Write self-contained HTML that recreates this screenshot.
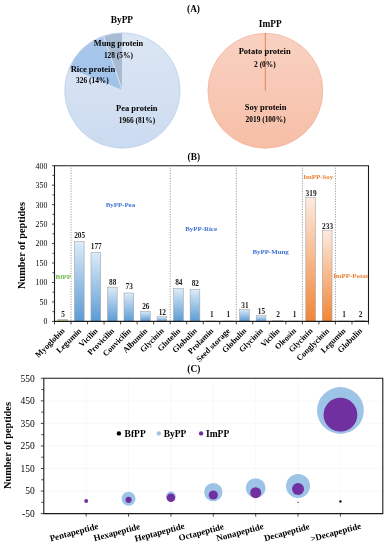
<!DOCTYPE html>
<html><head><meta charset="utf-8"><style>
html,body{margin:0;padding:0;background:#fff;width:391px;height:550px;overflow:hidden}
svg{display:block;will-change:transform}
text{font-family:"Liberation Serif", serif}
</style></head><body>
<svg width="391" height="550" viewBox="0 0 391 550">
<rect width="391" height="550" fill="#fff"/>
<text x="193.50" y="12.20" font-size="9.3" font-weight="bold" text-anchor="middle" fill="#000" >(A)</text>
<defs>
<linearGradient id="pp" x1="0" y1="0" x2="0" y2="1"><stop offset="0" stop-color="#dde7f4"/><stop offset="1" stop-color="#cbdbf0"/></linearGradient>
<linearGradient id="pr" x1="0" y1="0" x2="0" y2="1"><stop offset="0" stop-color="#aac8ec"/><stop offset="1" stop-color="#a0c1e8"/></linearGradient>
<linearGradient id="ps" x1="0" y1="0" x2="0" y2="1"><stop offset="0" stop-color="#f9d2c3"/><stop offset="1" stop-color="#f6bea6"/></linearGradient>
</defs>
<path d="M122.40,90.50 L122.40,32.70 A57.80,57.80 0 1 1 69.00,68.38 Z" fill="url(#pp)" stroke="#dde7f3" stroke-width="0.7"/>
<path d="M122.40,90.50 L69.00,68.38 A57.80,57.80 0 0 1 103.58,35.85 Z" fill="url(#pr)" stroke="#dde7f3" stroke-width="0.7"/>
<path d="M122.40,90.50 L103.58,35.85 A57.80,57.80 0 0 1 122.40,32.70 Z" fill="#a9bbd3" stroke="#dde7f3" stroke-width="0.7"/>
<circle cx="122.4" cy="90.5" r="57.5" fill="none" stroke="#b9cce6" stroke-width="0.6"/>
<text x="121.90" y="22.60" font-size="9.4" font-weight="bold" text-anchor="middle" fill="#000" >ByPP</text>
<text x="118.50" y="46.00" font-size="8.4" font-weight="bold" text-anchor="middle" fill="#000" >Mung protein</text>
<text x="118.40" y="57.70" font-size="7.4" font-weight="bold" text-anchor="middle" fill="#000" >128 (5%)</text>
<text x="92.90" y="71.80" font-size="8.5" font-weight="bold" text-anchor="middle" fill="#000" >Rice protein</text>
<text x="92.40" y="83.30" font-size="7.4" font-weight="bold" text-anchor="middle" fill="#000" >326 (14%)</text>
<text x="136.80" y="111.10" font-size="8.5" font-weight="bold" text-anchor="middle" fill="#000" >Pea protein</text>
<text x="137.00" y="122.90" font-size="7.4" font-weight="bold" text-anchor="middle" fill="#000" >1966 (81%)</text>
<circle cx="265.4" cy="90.8" r="57.7" fill="url(#ps)"/>
<circle cx="265.4" cy="90.8" r="57.400000000000006" fill="none" stroke="#f2b49a" stroke-width="0.6"/>
<line x1="265.29999999999995" y1="90.8" x2="265.29999999999995" y2="33.099999999999994" stroke="#e07f45" stroke-width="0.9"/>
<text x="270.20" y="26.90" font-size="9.4" font-weight="bold" text-anchor="middle" fill="#000" >ImPP</text>
<text x="264.70" y="54.20" font-size="8.5" font-weight="bold" text-anchor="middle" fill="#000" >Potato protein</text>
<text x="264.90" y="66.50" font-size="7.4" font-weight="bold" text-anchor="middle" fill="#000" >2 (0%)</text>
<text x="265.60" y="110.30" font-size="8.5" font-weight="bold" text-anchor="middle" fill="#000" >Soy protein</text>
<text x="265.60" y="122.00" font-size="7.4" font-weight="bold" text-anchor="middle" fill="#000" >2019 (100%)</text>
<text x="193.80" y="160.00" font-size="9.3" font-weight="bold" text-anchor="middle" fill="#000" >(B)</text>
<defs>
<linearGradient id="gb" x1="0" y1="0" x2="0" y2="1"><stop offset="0" stop-color="#dcebf8"/><stop offset="1" stop-color="#5b9bd5"/></linearGradient>
<linearGradient id="go" x1="0" y1="0" x2="0" y2="1"><stop offset="0" stop-color="#fdeadf"/><stop offset="1" stop-color="#f08536"/></linearGradient>
<linearGradient id="gg" x1="0" y1="0" x2="0" y2="1"><stop offset="0" stop-color="#d5e8c8"/><stop offset="1" stop-color="#8fbf6a"/></linearGradient>
</defs>
<line x1="71.03" y1="167.70" x2="71.03" y2="321.40" stroke="#707070" stroke-width="0.75" stroke-dasharray="1.1,1.47"/>
<line x1="170.18" y1="167.70" x2="170.18" y2="321.40" stroke="#707070" stroke-width="0.75" stroke-dasharray="1.1,1.47"/>
<line x1="236.29" y1="167.70" x2="236.29" y2="321.40" stroke="#707070" stroke-width="0.75" stroke-dasharray="1.1,1.47"/>
<line x1="302.39" y1="167.70" x2="302.39" y2="321.40" stroke="#707070" stroke-width="0.75" stroke-dasharray="1.1,1.47"/>
<line x1="335.45" y1="167.70" x2="335.45" y2="321.40" stroke="#707070" stroke-width="0.75" stroke-dasharray="1.1,1.47"/>
<rect x="57.91" y="319.45" width="9.7" height="1.95" fill="url(#gg)" stroke="#a0a0a0" stroke-width="0.55"/>
<text x="63.16" y="316.85" font-size="7.3" font-weight="bold" text-anchor="middle" fill="#1a1a1a" >5</text>
<text x="0" y="0" font-size="8.2" font-weight="bold" text-anchor="end" transform="translate(65.26,331.40) rotate(-45)">Myoglobin</text>
<rect x="74.44" y="241.60" width="9.7" height="79.80" fill="url(#gb)" stroke="#a0a0a0" stroke-width="0.55"/>
<text x="79.69" y="238.00" font-size="7.3" font-weight="bold" text-anchor="middle" fill="#1a1a1a" >205</text>
<text x="0" y="0" font-size="8.2" font-weight="bold" text-anchor="end" transform="translate(81.79,331.40) rotate(-45)">Legumin</text>
<rect x="90.97" y="252.50" width="9.7" height="68.90" fill="url(#gb)" stroke="#a0a0a0" stroke-width="0.55"/>
<text x="96.22" y="248.90" font-size="7.3" font-weight="bold" text-anchor="middle" fill="#1a1a1a" >177</text>
<text x="0" y="0" font-size="8.2" font-weight="bold" text-anchor="end" transform="translate(98.32,331.40) rotate(-45)">Vicilin</text>
<rect x="107.49" y="287.15" width="9.7" height="34.25" fill="url(#gb)" stroke="#a0a0a0" stroke-width="0.55"/>
<text x="112.74" y="284.85" font-size="7.3" font-weight="bold" text-anchor="middle" fill="#1a1a1a" >88</text>
<text x="0" y="0" font-size="8.2" font-weight="bold" text-anchor="end" transform="translate(114.84,331.40) rotate(-45)">Provicilin</text>
<rect x="124.02" y="292.98" width="9.7" height="28.42" fill="url(#gb)" stroke="#a0a0a0" stroke-width="0.55"/>
<text x="129.27" y="289.38" font-size="7.3" font-weight="bold" text-anchor="middle" fill="#1a1a1a" >73</text>
<text x="0" y="0" font-size="8.2" font-weight="bold" text-anchor="end" transform="translate(131.37,331.40) rotate(-45)">Convicilin</text>
<rect x="140.54" y="311.28" width="9.7" height="10.12" fill="url(#gb)" stroke="#a0a0a0" stroke-width="0.55"/>
<text x="145.79" y="308.68" font-size="7.3" font-weight="bold" text-anchor="middle" fill="#1a1a1a" >26</text>
<text x="0" y="0" font-size="8.2" font-weight="bold" text-anchor="end" transform="translate(147.89,331.40) rotate(-45)">Albumin</text>
<rect x="157.07" y="316.73" width="9.7" height="4.67" fill="url(#gb)" stroke="#a0a0a0" stroke-width="0.55"/>
<text x="162.32" y="315.13" font-size="7.3" font-weight="bold" text-anchor="middle" fill="#1a1a1a" >12</text>
<text x="0" y="0" font-size="8.2" font-weight="bold" text-anchor="end" transform="translate(164.42,331.40) rotate(-45)">Glycinin</text>
<rect x="173.60" y="288.70" width="9.7" height="32.70" fill="url(#gb)" stroke="#a0a0a0" stroke-width="0.55"/>
<text x="178.85" y="285.10" font-size="7.3" font-weight="bold" text-anchor="middle" fill="#1a1a1a" >84</text>
<text x="0" y="0" font-size="8.2" font-weight="bold" text-anchor="end" transform="translate(180.95,331.40) rotate(-45)">Glutelin</text>
<rect x="190.12" y="289.48" width="9.7" height="31.92" fill="url(#gb)" stroke="#a0a0a0" stroke-width="0.55"/>
<text x="195.37" y="285.88" font-size="7.3" font-weight="bold" text-anchor="middle" fill="#1a1a1a" >82</text>
<text x="0" y="0" font-size="8.2" font-weight="bold" text-anchor="end" transform="translate(197.47,331.40) rotate(-45)">Globulin</text>
<rect x="206.65" y="321.01" width="9.7" height="0.39" fill="url(#gb)" stroke="#a0a0a0" stroke-width="0.55"/>
<text x="211.90" y="317.41" font-size="7.3" font-weight="bold" text-anchor="middle" fill="#1a1a1a" >1</text>
<text x="0" y="0" font-size="8.2" font-weight="bold" text-anchor="end" transform="translate(214.00,331.40) rotate(-45)">Prolamin</text>
<rect x="223.18" y="321.01" width="9.7" height="0.39" fill="url(#gb)" stroke="#a0a0a0" stroke-width="0.55"/>
<text x="228.43" y="317.41" font-size="7.3" font-weight="bold" text-anchor="middle" fill="#1a1a1a" >1</text>
<text x="0" y="0" font-size="8.2" font-weight="bold" text-anchor="end" transform="translate(230.53,331.40) rotate(-45)">Seed storage</text>
<rect x="239.70" y="309.33" width="9.7" height="12.07" fill="url(#gb)" stroke="#a0a0a0" stroke-width="0.55"/>
<text x="244.95" y="307.73" font-size="7.3" font-weight="bold" text-anchor="middle" fill="#1a1a1a" >31</text>
<text x="0" y="0" font-size="8.2" font-weight="bold" text-anchor="end" transform="translate(247.05,331.40) rotate(-45)">Globulin</text>
<rect x="256.23" y="315.56" width="9.7" height="5.84" fill="url(#gb)" stroke="#a0a0a0" stroke-width="0.55"/>
<text x="261.48" y="314.46" font-size="7.3" font-weight="bold" text-anchor="middle" fill="#1a1a1a" >15</text>
<text x="0" y="0" font-size="8.2" font-weight="bold" text-anchor="end" transform="translate(263.58,331.40) rotate(-45)">Glycinin</text>
<rect x="272.76" y="320.62" width="9.7" height="0.78" fill="url(#gb)" stroke="#a0a0a0" stroke-width="0.55"/>
<text x="278.01" y="317.02" font-size="7.3" font-weight="bold" text-anchor="middle" fill="#1a1a1a" >2</text>
<text x="0" y="0" font-size="8.2" font-weight="bold" text-anchor="end" transform="translate(280.11,331.40) rotate(-45)">Vicilin</text>
<rect x="289.28" y="321.01" width="9.7" height="0.39" fill="url(#gb)" stroke="#a0a0a0" stroke-width="0.55"/>
<text x="294.53" y="317.41" font-size="7.3" font-weight="bold" text-anchor="middle" fill="#1a1a1a" >1</text>
<text x="0" y="0" font-size="8.2" font-weight="bold" text-anchor="end" transform="translate(296.63,331.40) rotate(-45)">Oleosin</text>
<rect x="305.81" y="197.23" width="9.7" height="124.17" fill="url(#go)" stroke="#a0a0a0" stroke-width="0.55"/>
<text x="311.06" y="196.33" font-size="7.3" font-weight="bold" text-anchor="middle" fill="#1a1a1a" >319</text>
<text x="0" y="0" font-size="8.2" font-weight="bold" text-anchor="end" transform="translate(313.16,331.40) rotate(-45)">Glycinin</text>
<rect x="322.33" y="230.70" width="9.7" height="90.70" fill="url(#go)" stroke="#a0a0a0" stroke-width="0.55"/>
<text x="327.58" y="228.60" font-size="7.3" font-weight="bold" text-anchor="middle" fill="#1a1a1a" >233</text>
<text x="0" y="0" font-size="8.2" font-weight="bold" text-anchor="end" transform="translate(329.68,331.40) rotate(-45)">Conglycinin</text>
<rect x="338.86" y="321.01" width="9.7" height="0.39" fill="url(#go)" stroke="#a0a0a0" stroke-width="0.55"/>
<text x="344.11" y="317.41" font-size="7.3" font-weight="bold" text-anchor="middle" fill="#1a1a1a" >1</text>
<text x="0" y="0" font-size="8.2" font-weight="bold" text-anchor="end" transform="translate(346.21,331.40) rotate(-45)">Legumin</text>
<rect x="355.39" y="320.62" width="9.7" height="0.78" fill="url(#go)" stroke="#a0a0a0" stroke-width="0.55"/>
<text x="360.64" y="317.02" font-size="7.3" font-weight="bold" text-anchor="middle" fill="#1a1a1a" >2</text>
<text x="0" y="0" font-size="8.2" font-weight="bold" text-anchor="end" transform="translate(362.74,331.40) rotate(-45)">Globulin</text>
<path d="M54.5,165.7 L368.5,165.7 L368.5,321.4 L54.5,321.4 Z" fill="none" stroke="#1a1a1a" stroke-width="1.1"/>
<line x1="52.00" y1="321.40" x2="54.50" y2="321.40" stroke="#1a1a1a" stroke-width="0.8"/>
<text x="47.30" y="324.30" font-size="7.8" font-weight="normal" text-anchor="end" fill="#000" >0</text>
<line x1="52.50" y1="311.67" x2="54.50" y2="311.67" stroke="#1a1a1a" stroke-width="0.8"/>
<line x1="52.00" y1="301.94" x2="54.50" y2="301.94" stroke="#1a1a1a" stroke-width="0.8"/>
<text x="47.30" y="304.84" font-size="7.8" font-weight="normal" text-anchor="end" fill="#000" >50</text>
<line x1="52.50" y1="292.21" x2="54.50" y2="292.21" stroke="#1a1a1a" stroke-width="0.8"/>
<line x1="52.00" y1="282.47" x2="54.50" y2="282.47" stroke="#1a1a1a" stroke-width="0.8"/>
<text x="47.30" y="285.37" font-size="7.8" font-weight="normal" text-anchor="end" fill="#000" >100</text>
<line x1="52.50" y1="272.74" x2="54.50" y2="272.74" stroke="#1a1a1a" stroke-width="0.8"/>
<line x1="52.00" y1="263.01" x2="54.50" y2="263.01" stroke="#1a1a1a" stroke-width="0.8"/>
<text x="47.30" y="265.91" font-size="7.8" font-weight="normal" text-anchor="end" fill="#000" >150</text>
<line x1="52.50" y1="253.28" x2="54.50" y2="253.28" stroke="#1a1a1a" stroke-width="0.8"/>
<line x1="52.00" y1="243.55" x2="54.50" y2="243.55" stroke="#1a1a1a" stroke-width="0.8"/>
<text x="47.30" y="246.45" font-size="7.8" font-weight="normal" text-anchor="end" fill="#000" >200</text>
<line x1="52.50" y1="233.82" x2="54.50" y2="233.82" stroke="#1a1a1a" stroke-width="0.8"/>
<line x1="52.00" y1="224.09" x2="54.50" y2="224.09" stroke="#1a1a1a" stroke-width="0.8"/>
<text x="47.30" y="226.99" font-size="7.8" font-weight="normal" text-anchor="end" fill="#000" >250</text>
<line x1="52.50" y1="214.36" x2="54.50" y2="214.36" stroke="#1a1a1a" stroke-width="0.8"/>
<line x1="52.00" y1="204.62" x2="54.50" y2="204.62" stroke="#1a1a1a" stroke-width="0.8"/>
<text x="47.30" y="207.53" font-size="7.8" font-weight="normal" text-anchor="end" fill="#000" >300</text>
<line x1="52.50" y1="194.89" x2="54.50" y2="194.89" stroke="#1a1a1a" stroke-width="0.8"/>
<line x1="52.00" y1="185.16" x2="54.50" y2="185.16" stroke="#1a1a1a" stroke-width="0.8"/>
<text x="47.30" y="188.06" font-size="7.8" font-weight="normal" text-anchor="end" fill="#000" >350</text>
<line x1="52.50" y1="175.43" x2="54.50" y2="175.43" stroke="#1a1a1a" stroke-width="0.8"/>
<line x1="52.00" y1="165.70" x2="54.50" y2="165.70" stroke="#1a1a1a" stroke-width="0.8"/>
<text x="47.30" y="168.60" font-size="7.8" font-weight="normal" text-anchor="end" fill="#000" >400</text>
<line x1="54.50" y1="321.40" x2="54.50" y2="324.40" stroke="#1a1a1a" stroke-width="0.8"/>
<line x1="71.03" y1="321.40" x2="71.03" y2="324.40" stroke="#1a1a1a" stroke-width="0.8"/>
<line x1="87.55" y1="321.40" x2="87.55" y2="324.40" stroke="#1a1a1a" stroke-width="0.8"/>
<line x1="104.08" y1="321.40" x2="104.08" y2="324.40" stroke="#1a1a1a" stroke-width="0.8"/>
<line x1="120.61" y1="321.40" x2="120.61" y2="324.40" stroke="#1a1a1a" stroke-width="0.8"/>
<line x1="137.13" y1="321.40" x2="137.13" y2="324.40" stroke="#1a1a1a" stroke-width="0.8"/>
<line x1="153.66" y1="321.40" x2="153.66" y2="324.40" stroke="#1a1a1a" stroke-width="0.8"/>
<line x1="170.18" y1="321.40" x2="170.18" y2="324.40" stroke="#1a1a1a" stroke-width="0.8"/>
<line x1="186.71" y1="321.40" x2="186.71" y2="324.40" stroke="#1a1a1a" stroke-width="0.8"/>
<line x1="203.24" y1="321.40" x2="203.24" y2="324.40" stroke="#1a1a1a" stroke-width="0.8"/>
<line x1="219.76" y1="321.40" x2="219.76" y2="324.40" stroke="#1a1a1a" stroke-width="0.8"/>
<line x1="236.29" y1="321.40" x2="236.29" y2="324.40" stroke="#1a1a1a" stroke-width="0.8"/>
<line x1="252.82" y1="321.40" x2="252.82" y2="324.40" stroke="#1a1a1a" stroke-width="0.8"/>
<line x1="269.34" y1="321.40" x2="269.34" y2="324.40" stroke="#1a1a1a" stroke-width="0.8"/>
<line x1="285.87" y1="321.40" x2="285.87" y2="324.40" stroke="#1a1a1a" stroke-width="0.8"/>
<line x1="302.39" y1="321.40" x2="302.39" y2="324.40" stroke="#1a1a1a" stroke-width="0.8"/>
<line x1="318.92" y1="321.40" x2="318.92" y2="324.40" stroke="#1a1a1a" stroke-width="0.8"/>
<line x1="335.45" y1="321.40" x2="335.45" y2="324.40" stroke="#1a1a1a" stroke-width="0.8"/>
<line x1="351.97" y1="321.40" x2="351.97" y2="324.40" stroke="#1a1a1a" stroke-width="0.8"/>
<line x1="368.50" y1="321.40" x2="368.50" y2="324.40" stroke="#1a1a1a" stroke-width="0.8"/>
<text x="0" y="0" font-size="10.3" font-weight="bold" text-anchor="middle" transform="translate(25,245.5) rotate(-90)">Number of peptides</text>
<text x="63.20" y="278.60" font-size="6.9" font-weight="bold" text-anchor="middle" fill="#70b84c" >BfPP</text>
<text x="120.40" y="207.00" font-size="6.9" font-weight="bold" text-anchor="middle" fill="#3f74cf" >ByPP-Pea</text>
<text x="201.10" y="230.70" font-size="6.9" font-weight="bold" text-anchor="middle" fill="#3f74cf" >ByPP-Rice</text>
<text x="270.60" y="254.00" font-size="6.9" font-weight="bold" text-anchor="middle" fill="#3f74cf" >ByPP-Mung</text>
<text x="318.30" y="179.10" font-size="6.9" font-weight="bold" text-anchor="middle" fill="#ec7f32" >ImPP-Soy</text>
<clipPath id="cpB"><rect x="54.5" y="165.7" width="313.6" height="155.7"/></clipPath>
<text x="333.20" y="277.50" font-size="6.9" font-weight="bold" text-anchor="start" fill="#ec7f32" clip-path="url(#cpB)">ImPP-Potato</text>
<text x="193.80" y="372.20" font-size="9.3" font-weight="bold" text-anchor="middle" fill="#000" >(C)</text>
<line x1="43.8" y1="491.05" x2="382.8" y2="491.05" stroke="#f3f3f3" stroke-width="0.6"/>
<line x1="43.8" y1="468.50" x2="382.8" y2="468.50" stroke="#f3f3f3" stroke-width="0.6"/>
<line x1="43.8" y1="445.95" x2="382.8" y2="445.95" stroke="#f3f3f3" stroke-width="0.6"/>
<line x1="43.8" y1="423.40" x2="382.8" y2="423.40" stroke="#f3f3f3" stroke-width="0.6"/>
<line x1="43.8" y1="400.85" x2="382.8" y2="400.85" stroke="#f3f3f3" stroke-width="0.6"/>
<line x1="43.8" y1="378.30" x2="382.8" y2="378.30" stroke="#f3f3f3" stroke-width="0.6"/>
<line x1="86.17" y1="378.3" x2="86.17" y2="513.6" stroke="#f3f3f3" stroke-width="0.6"/>
<line x1="128.55" y1="378.3" x2="128.55" y2="513.6" stroke="#f3f3f3" stroke-width="0.6"/>
<line x1="170.93" y1="378.3" x2="170.93" y2="513.6" stroke="#f3f3f3" stroke-width="0.6"/>
<line x1="213.30" y1="378.3" x2="213.30" y2="513.6" stroke="#f3f3f3" stroke-width="0.6"/>
<line x1="255.68" y1="378.3" x2="255.68" y2="513.6" stroke="#f3f3f3" stroke-width="0.6"/>
<line x1="298.05" y1="378.3" x2="298.05" y2="513.6" stroke="#f3f3f3" stroke-width="0.6"/>
<line x1="340.43" y1="378.3" x2="340.43" y2="513.6" stroke="#f3f3f3" stroke-width="0.6"/>
<circle cx="86.17" cy="501.1" r="2.0" fill="#7030a0"/>
<circle cx="128.55" cy="498.8" r="7.0" fill="#9dc3e6"/>
<circle cx="128.55" cy="499.8" r="3.1" fill="#7030a0"/>
<circle cx="170.93" cy="496.3" r="4.8" fill="#9dc3e6"/>
<circle cx="170.93" cy="497.8" r="4.3" fill="#7030a0"/>
<circle cx="213.30" cy="492.1" r="9.2" fill="#9dc3e6"/>
<circle cx="213.30" cy="495.0" r="4.6" fill="#7030a0"/>
<circle cx="255.68" cy="488.1" r="9.9" fill="#9dc3e6"/>
<circle cx="255.68" cy="492.7" r="5.5" fill="#7030a0"/>
<circle cx="298.05" cy="485.9" r="12.0" fill="#9dc3e6"/>
<circle cx="298.05" cy="489.1" r="6.0" fill="#7030a0"/>
<circle cx="298.05" cy="502.3" r="0.6" fill="#000"/>
<circle cx="340.43" cy="410.5" r="23.4" fill="#9dc3e6"/>
<circle cx="340.43" cy="414.7" r="16.9" fill="#7030a0"/>
<circle cx="340.43" cy="501.4" r="1.2" fill="#000"/>
<path d="M43.8,378.3 L382.8,378.3 L382.8,513.6 L43.8,513.6 Z" fill="none" stroke="#1a1a1a" stroke-width="1.1"/>
<line x1="40.80" y1="513.60" x2="43.80" y2="513.60" stroke="#1a1a1a" stroke-width="0.8"/>
<text x="34.70" y="516.80" font-size="9.5" font-weight="normal" text-anchor="end" fill="#000" >-50</text>
<line x1="41.30" y1="502.33" x2="43.80" y2="502.33" stroke="#1a1a1a" stroke-width="0.8"/>
<line x1="40.80" y1="491.05" x2="43.80" y2="491.05" stroke="#1a1a1a" stroke-width="0.8"/>
<text x="34.70" y="494.25" font-size="9.5" font-weight="normal" text-anchor="end" fill="#000" >50</text>
<line x1="41.30" y1="479.78" x2="43.80" y2="479.78" stroke="#1a1a1a" stroke-width="0.8"/>
<line x1="40.80" y1="468.50" x2="43.80" y2="468.50" stroke="#1a1a1a" stroke-width="0.8"/>
<text x="34.70" y="471.70" font-size="9.5" font-weight="normal" text-anchor="end" fill="#000" >150</text>
<line x1="41.30" y1="457.23" x2="43.80" y2="457.23" stroke="#1a1a1a" stroke-width="0.8"/>
<line x1="40.80" y1="445.95" x2="43.80" y2="445.95" stroke="#1a1a1a" stroke-width="0.8"/>
<text x="34.70" y="449.15" font-size="9.5" font-weight="normal" text-anchor="end" fill="#000" >250</text>
<line x1="41.30" y1="434.68" x2="43.80" y2="434.68" stroke="#1a1a1a" stroke-width="0.8"/>
<line x1="40.80" y1="423.40" x2="43.80" y2="423.40" stroke="#1a1a1a" stroke-width="0.8"/>
<text x="34.70" y="426.60" font-size="9.5" font-weight="normal" text-anchor="end" fill="#000" >350</text>
<line x1="41.30" y1="412.12" x2="43.80" y2="412.12" stroke="#1a1a1a" stroke-width="0.8"/>
<line x1="40.80" y1="400.85" x2="43.80" y2="400.85" stroke="#1a1a1a" stroke-width="0.8"/>
<text x="34.70" y="404.05" font-size="9.5" font-weight="normal" text-anchor="end" fill="#000" >450</text>
<line x1="41.30" y1="389.58" x2="43.80" y2="389.58" stroke="#1a1a1a" stroke-width="0.8"/>
<line x1="40.80" y1="378.30" x2="43.80" y2="378.30" stroke="#1a1a1a" stroke-width="0.8"/>
<text x="34.70" y="381.50" font-size="9.5" font-weight="normal" text-anchor="end" fill="#000" >550</text>
<line x1="86.17" y1="513.60" x2="86.17" y2="516.60" stroke="#1a1a1a" stroke-width="0.8"/>
<line x1="128.55" y1="513.60" x2="128.55" y2="516.60" stroke="#1a1a1a" stroke-width="0.8"/>
<line x1="170.93" y1="513.60" x2="170.93" y2="516.60" stroke="#1a1a1a" stroke-width="0.8"/>
<line x1="213.30" y1="513.60" x2="213.30" y2="516.60" stroke="#1a1a1a" stroke-width="0.8"/>
<line x1="255.68" y1="513.60" x2="255.68" y2="516.60" stroke="#1a1a1a" stroke-width="0.8"/>
<line x1="298.05" y1="513.60" x2="298.05" y2="516.60" stroke="#1a1a1a" stroke-width="0.8"/>
<line x1="340.43" y1="513.60" x2="340.43" y2="516.60" stroke="#1a1a1a" stroke-width="0.8"/>
<text x="0" y="0" font-size="10.3" font-weight="bold" text-anchor="middle" transform="translate(11.1,445.5) rotate(-90)">Number of peptides</text>
<text x="0" y="0" font-size="8.9" font-weight="bold" text-anchor="middle" transform="translate(74.67,535.10) rotate(-15)">Pentapeptide</text>
<text x="0" y="0" font-size="8.9" font-weight="bold" text-anchor="middle" transform="translate(117.55,535.10) rotate(-15)">Hexapeptide</text>
<text x="0" y="0" font-size="8.9" font-weight="bold" text-anchor="middle" transform="translate(160.23,535.10) rotate(-15)">Heptapeptide</text>
<text x="0" y="0" font-size="8.9" font-weight="bold" text-anchor="middle" transform="translate(202.00,535.10) rotate(-15)">Octapeptide</text>
<text x="0" y="0" font-size="8.9" font-weight="bold" text-anchor="middle" transform="translate(240.68,535.10) rotate(-15)">Nonapeptide</text>
<text x="0" y="0" font-size="8.9" font-weight="bold" text-anchor="middle" transform="translate(287.55,535.10) rotate(-15)">Decapeptide</text>
<text x="0" y="0" font-size="8.9" font-weight="bold" text-anchor="middle" transform="translate(336.43,535.10) rotate(-15)">&gt;Decapeptide</text>
<circle cx="118.9" cy="433.4" r="2.2" fill="#000"/>
<text x="124.60" y="436.80" font-size="9.5" font-weight="bold" text-anchor="start" fill="#000" >BfPP</text>
<circle cx="158.8" cy="433.4" r="2.2" fill="#9dc3e6"/>
<text x="163.70" y="436.80" font-size="9.5" font-weight="bold" text-anchor="start" fill="#000" >ByPP</text>
<circle cx="201.1" cy="433.4" r="2.2" fill="#7030a0"/>
<text x="206.00" y="436.80" font-size="9.5" font-weight="bold" text-anchor="start" fill="#000" >ImPP</text>
</svg>
</body></html>
